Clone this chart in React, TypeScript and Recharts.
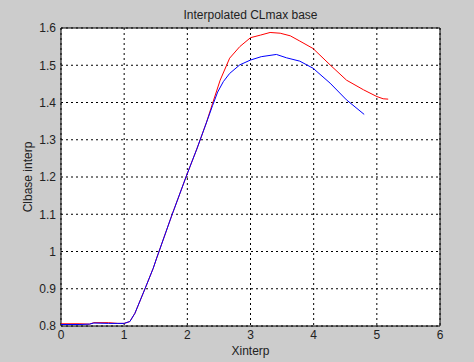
import { LineChart, Line, XAxis, YAxis, CartesianGrid, ReferenceArea } from "recharts";

// tick labels
const xTicks = [0, 1, 2, 3, 4, 5, 6];
const yTicks = [0.8, 0.9, 1, 1.1, 1.2, 1.3, 1.4, 1.5, 1.6];

// red curve
const redX = [0, 0.3, 0.45, 0.52, 0.75, 0.9, 1.0, 1.09, 1.17, 1.33, 1.46, 1.51, 1.75, 1.99, 2.15, 2.3, 2.4, 2.52, 2.67, 2.83, 3.0, 3.16, 3.31, 3.47, 3.63, 3.78, 3.99, 4.26, 4.52, 4.79, 5.0, 5.1, 5.18];
const redY = [0.806, 0.806, 0.805, 0.809, 0.809, 0.807, 0.807, 0.812, 0.834, 0.9, 0.955, 0.98, 1.095, 1.205, 1.275, 1.345, 1.398, 1.46, 1.519, 1.55, 1.574, 1.581, 1.588, 1.586, 1.579, 1.565, 1.545, 1.501, 1.46, 1.434, 1.416, 1.41, 1.409];

// blue curve
const blueX = [0, 0.3, 0.45, 0.52, 0.75, 0.9, 1.0, 1.09, 1.17, 1.33, 1.46, 1.51, 1.75, 1.99, 2.15, 2.3, 2.4, 2.48, 2.57, 2.67, 2.83, 3.0, 3.17, 3.41, 3.57, 3.78, 3.99, 4.26, 4.52, 4.8];
const blueY = [0.804, 0.804, 0.805, 0.808, 0.807, 0.807, 0.807, 0.812, 0.834, 0.9, 0.955, 0.98, 1.095, 1.205, 1.275, 1.345, 1.392, 1.428, 1.456, 1.478, 1.501, 1.514, 1.523, 1.529, 1.52, 1.511, 1.492, 1.452, 1.407, 1.368];

const toPoints = (xs: number[], ys: number[]) => xs.map((x, i) => ({ x, y: ys[i] }));

const font = '"Liberation Sans", Arial, sans-serif';

export default function App() {
  const red = toPoints(redX, redY);
  const blue = toPoints(blueX, blueY);

  return (
    <div
      style={{
        position: "absolute",
        left: 0,
        top: 0,
        width: 474,
        height: 362,
        background: "#cccccc",
        fontFamily: font,
        color: "#222",
      }}
    >
      <LineChart width={474} height={362} margin={{ top: 28, right: 34, bottom: 0, left: 0 }}>
        <CartesianGrid fill="#ffffff" stroke="#000" strokeDasharray="2 3" />
        <XAxis
          type="number"
          dataKey="x"
          domain={[0, 6]}
          ticks={xTicks}
          allowDataOverflow
          height={36}
          axisLine={false}
          tickLine={false}
          tickSize={4}
          tickMargin={0}
          tick={{ fontSize: 12, fill: "#222", fontFamily: font }}
        />
        <YAxis
          type="number"
          dataKey="y"
          domain={[0.8, 1.6]}
          ticks={yTicks}
          allowDataOverflow
          width={61}
          axisLine={false}
          tickLine={false}
          tickSize={3}
          tickMargin={2}
          tick={{ fontSize: 12, fill: "#222", fontFamily: font }}
        />
        <ReferenceArea x1={0} x2={6} y1={0.8} y2={1.6} fill="none" fillOpacity={0} stroke="#000" strokeWidth={1} />
        <Line data={red} dataKey="y" type="linear" stroke="#ff0000" strokeWidth={1} dot={false} isAnimationActive={false} />
        <Line data={blue} dataKey="y" type="linear" stroke="#0000ff" strokeWidth={1} dot={false} isAnimationActive={false} />
      </LineChart>
      <div style={{ position: "absolute", left: 61, top: 8, width: 379, textAlign: "center", fontSize: 12, lineHeight: "14px" }}>
        Interpolated CLmax base
      </div>
      <div style={{ position: "absolute", left: 61, top: 344, width: 379, textAlign: "center", fontSize: 12, lineHeight: "14px" }}>
        Xinterp
      </div>
      <div
        style={{
          position: "absolute",
          left: 28,
          top: 177,
          fontSize: 12,
          lineHeight: "14px",
          whiteSpace: "nowrap",
          transform: "translate(-50%, -50%) rotate(-90deg)",
        }}
      >
        Clbase interp
      </div>
    </div>
  );
}
